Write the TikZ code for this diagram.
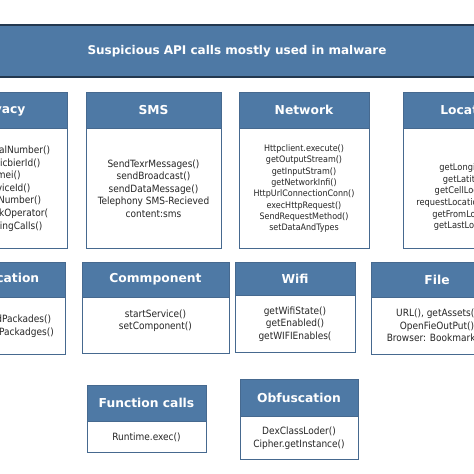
\documentclass[tikz,border=0pt]{standalone}
\usepackage{fontspec}
\usetikzlibrary{positioning}
\newfontfamily\headfont{DejaVu Sans}
\newfontfamily\bodyfont{DejaVu Sans Condensed}
\definecolor{headblue}{HTML}{4E79A5}
\definecolor{edgeblue}{HTML}{46698F}
\definecolor{bardark}{HTML}{23384F}

\begin{document}
\begin{tikzpicture}[x=1pt,y=-1pt]
\tikzstyle{head} = [fill=headblue, draw=edgeblue, text=white, font=\headfont\bfseries\fontsize{12.3}{14}\selectfont, minimum height=36pt, inner sep=0pt]
\tikzstyle{body} = [fill=white, draw=edgeblue, line width=0.8pt, align=center, inner sep=0pt, text=black!85, font=\bodyfont\fontsize{10}{12.6}\selectfont]
\useasboundingbox (0,0) rectangle (474,474);
\clip (0,0) rectangle (474,474);
\node[fill=headblue, draw=bardark, line width=1.2pt, minimum width=484pt, minimum height=52pt, text=white, font=\headfont\bfseries\fontsize{12}{14}\selectfont] (title) at (237,51) {Suspicious API calls mostly used in malware};
% first row
\node[head, minimum width=134pt] (privh) at (0,110) {Privacy};
\node[body, minimum width=134pt, minimum height=120pt, below=0pt of privh] (privb) {getSimSerialNumber()\\getSubsricbierId()\\getImei()\\getDeviceId()\\getLine1Number()\\getNetworkOperator(\\getOutgoingCalls()};
\node[head, minimum width=135pt] (smsh) at (153.5,110) {SMS};
\node[body, minimum width=135pt, minimum height=120pt, below=0pt of smsh] (smsb) {SendTexrMessages()\\sendBroadcast()\\sendDataMessage()\\Telephony SMS-Recieved\\content:sms};
\node[head, minimum width=130pt] (neth) at (304,110) {Network};
\node[body, minimum width=130pt, minimum height=120pt, below=0pt of neth, font=\bodyfont\fontsize{8.9}{11.3}\selectfont] (netb) {Httpclient.execute()\\getOutputStream()\\getInputStram()\\getNetworkInfi()\\HttpUrlConnectionConn()\\execHttpRequest()\\SendRequestMethod()\\setDataAndTypes};
\node[head, minimum width=134pt] (loch) at (470,110) {Location};
\node[body, minimum width=134pt, minimum height=120pt, below=0pt of loch, font=\bodyfont\fontsize{9.2}{11.6}\selectfont, text height=80pt, text depth=0pt] (locb) {getLongitude()\\getLatitude()\\getCellLocation()\\requestLocationUpdates()\\getFromLocation()\\getLastLocation()};
% second row
\node[head, minimum width=130pt, minimum height=35pt] (apph) at (0,279.5) {Application};
\node[body, minimum width=130pt, minimum height=57pt, below=0pt of apph] (appb) {getInstalledPackades()\\getInstalledPackadges()};
\node[head, minimum width=147pt, minimum height=35pt] (comph) at (155.5,279.5) {Commponent};
\node[body, minimum width=147pt, minimum height=56pt, below=0pt of comph, text depth=12pt] (compb) {startService()\\setComponent()};
\node[head, minimum width=120pt, minimum height=33pt] (wifih) at (295,278.5) {Wifi};
\node[body, minimum width=120pt, minimum height=57pt, below=0pt of wifih] (wifib) {getWifiState()\\getEnabled()\\getWIFIEnables(};
\node[head, minimum width=132pt, minimum height=35pt] (fileh) at (437,279.5) {File};
\node[body, minimum width=132pt, minimum height=57pt, below=0pt of fileh] (fileb) {URL(), getAssets()\\OpenFieOutPut()\\Browser: Bookmarks()};
% third row
\node[head, minimum width=119pt] (funch) at (146.5,403) {Function calls};
\node[body, minimum width=119pt, minimum height=31pt, below=0pt of funch] (funcb) {Runtime.exec()};
\node[head, minimum width=118pt, minimum height=37pt] (obfh) at (299,397.5) {Obfuscation};
\node[body, minimum width=118pt, minimum height=43pt, below=0pt of obfh] (obfb) {DexClassLoder()\\Cipher.getInstance()};
\end{tikzpicture}
\end{document}
